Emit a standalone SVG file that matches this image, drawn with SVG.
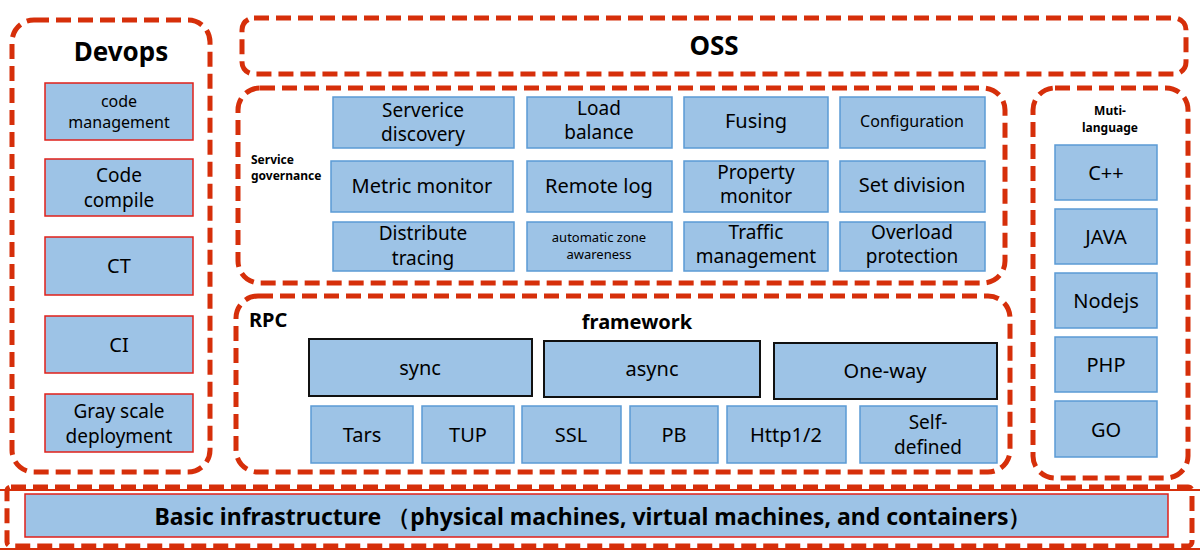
<svg xmlns="http://www.w3.org/2000/svg" width="1200" height="552" viewBox="0 0 1200 552">
<style>
text{font-family:"Noto Sans","Open Sans",sans-serif;fill:#000;text-anchor:middle}
.grp{fill:none;stroke:#D62F0A;stroke-width:5;stroke-dasharray:15 7}
.b{fill:#9DC3E6;stroke:#5B9BD5;stroke-width:1.5}
.r{fill:#9DC3E6;stroke:#E0201A;stroke-width:1.5}
.k{fill:#9DC3E6;stroke:#111;stroke-width:2}
.t{font-size:20px}
.t2{font-size:19px}
.s{font-size:16px}
.h{font-weight:bold}
.st{text-anchor:start}
</style>
<rect width="1200" height="552" fill="#fff"/>
<g id="groups">
<rect class="grp" x="12" y="20" width="198" height="452" rx="22"/>
<rect class="grp" x="242" y="18" width="944" height="56" rx="12"/>
<rect class="grp" x="238" y="88" width="767" height="195" rx="22"/>
<rect class="grp" x="236" y="296" width="774" height="176" rx="22"/>
<rect class="grp" x="1033" y="88" width="155" height="390" rx="22"/>
<line x1="0" y1="490" x2="1200" y2="490" stroke="#D62F0A" stroke-width="2"/>
<line x1="0" y1="549" x2="1200" y2="549" stroke="#D62F0A" stroke-width="2"/>
<rect class="grp" x="7" y="487" width="1185" height="59" rx="4"/>
</g>
<g id="labels">
<text class="h" x="121" y="61" font-size="26">Devops</text>
<text class="h" x="714" y="55" font-size="26">OSS</text>
<text class="h st" x="251" y="164" font-size="12">Service</text>
<text class="h st" x="251" y="180" font-size="12">governance</text>
<text class="h st" x="249" y="327" font-size="20">RPC</text>
<text class="h" x="637" y="329" font-size="20">framework</text>
<text class="h" x="1110" y="115" font-size="12">Muti-</text>
<text class="h" x="1110" y="132" font-size="12">language</text>
</g>
<g id="devops">
<g id="n-code-mgmt"><rect class="r" x="45" y="83" width="148" height="57"/><text class="s" x="119" y="107">code</text><text class="s" x="119" y="128">management</text></g>
<g id="n-code-compile"><rect class="r" x="45" y="159" width="148" height="57"/><text class="t2" x="119" y="182">Code</text><text class="t2" x="119" y="207">compile</text></g>
<g id="n-ct"><rect class="r" x="45" y="237" width="148" height="58"/><text class="t" x="119" y="273">CT</text></g>
<g id="n-ci"><rect class="r" x="45" y="316" width="148" height="57"/><text class="t" x="119" y="352">CI</text></g>
<g id="n-gray"><rect class="r" x="45" y="394" width="148" height="58"/><text class="t2" x="119" y="418">Gray scale</text><text class="t2" x="119" y="443">deployment</text></g>
</g>
<g id="governance">
<g id="n-sd"><rect class="b" x="333" y="97" width="181" height="51"/><text class="t2" x="423" y="117">Serverice</text><text class="t2" x="423" y="141">discovery</text></g>
<g id="n-lb"><rect class="b" x="527" y="97" width="145" height="51"/><text class="t2" x="599" y="115">Load</text><text class="t2" x="599" y="139">balance</text></g>
<g id="n-fusing"><rect class="b" x="684" y="97" width="144" height="51"/><text class="t" x="756" y="128">Fusing</text></g>
<g id="n-config"><rect class="b" x="840" y="97" width="145" height="51"/><text class="s" x="912" y="127">Configuration</text></g>
<g id="n-metric"><rect class="b" x="331" y="161" width="182" height="51"/><text class="t" x="422" y="193">Metric monitor</text></g>
<g id="n-remote"><rect class="b" x="527" y="161" width="145" height="51"/><text class="t" x="599" y="193">Remote log</text></g>
<g id="n-prop"><rect class="b" x="684" y="161" width="144" height="51"/><text class="t2" x="756" y="179">Property</text><text class="t2" x="756" y="203">monitor</text></g>
<g id="n-set"><rect class="b" x="840" y="161" width="145" height="51"/><text class="t" x="912" y="192">Set division</text></g>
<g id="n-trace"><rect class="b" x="333" y="222" width="181" height="49"/><text class="t2" x="423" y="240">Distribute</text><text class="t2" x="423" y="265">tracing</text></g>
<g id="n-zone"><rect class="b" x="527" y="222" width="145" height="49"/><text x="599" y="242" font-size="13">automatic zone</text><text x="599" y="259" font-size="13">awareness</text></g>
<g id="n-traffic"><rect class="b" x="684" y="222" width="144" height="49"/><text class="t2" x="756" y="239">Traffic</text><text class="t2" x="756" y="263">management</text></g>
<g id="n-overload"><rect class="b" x="840" y="222" width="145" height="49"/><text class="t2" x="912" y="239">Overload</text><text class="t2" x="912" y="263">protection</text></g>
</g>
<g id="rpc">
<g id="n-sync"><rect class="k" x="309" y="339" width="223" height="57"/><text class="t" x="420" y="375">sync</text></g>
<g id="n-async"><rect class="k" x="544" y="341" width="216" height="56"/><text class="t" x="652" y="376">async</text></g>
<g id="n-oneway"><rect class="k" x="774" y="343" width="223" height="56"/><text class="t" x="885" y="378">One-way</text></g>
<g id="n-tars"><rect class="b" x="311" y="406" width="102" height="57"/><text class="t" x="362" y="442">Tars</text></g>
<g id="n-tup"><rect class="b" x="422" y="406" width="92" height="57"/><text class="t" x="468" y="442">TUP</text></g>
<g id="n-ssl"><rect class="b" x="522" y="406" width="99" height="57"/><text class="t" x="571" y="442">SSL</text></g>
<g id="n-pb"><rect class="b" x="630" y="406" width="88" height="57"/><text class="t" x="674" y="442">PB</text></g>
<g id="n-http"><rect class="b" x="727" y="406" width="119" height="57"/><text class="t" x="786" y="442">Http1/2</text></g>
<g id="n-self"><rect class="b" x="860" y="406" width="137" height="57"/><text class="t2" x="928" y="429">Self-</text><text class="t2" x="928" y="454">defined</text></g>
</g>
<g id="languages">
<g id="n-cpp"><rect class="b" x="1055" y="145" width="102" height="55"/><text class="t" x="1106" y="180">C++</text></g>
<g id="n-java"><rect class="b" x="1055" y="209" width="102" height="55"/><text class="t" x="1106" y="244">JAVA</text></g>
<g id="n-node"><rect class="b" x="1055" y="273" width="102" height="55"/><text class="t" x="1106" y="308">Nodejs</text></g>
<g id="n-php"><rect class="b" x="1055" y="337" width="102" height="55"/><text class="t" x="1106" y="372">PHP</text></g>
<g id="n-go"><rect class="b" x="1055" y="401" width="102" height="56"/><text class="t" x="1106" y="437">GO</text></g>
</g>
<g id="n-infra"><rect class="r" x="25" y="494" width="1143" height="43"/><text class="h" x="593" y="525" font-size="23">Basic infrastructure （physical machines, virtual machines, and containers）</text></g>
<g id="connectors"/>
</svg>
